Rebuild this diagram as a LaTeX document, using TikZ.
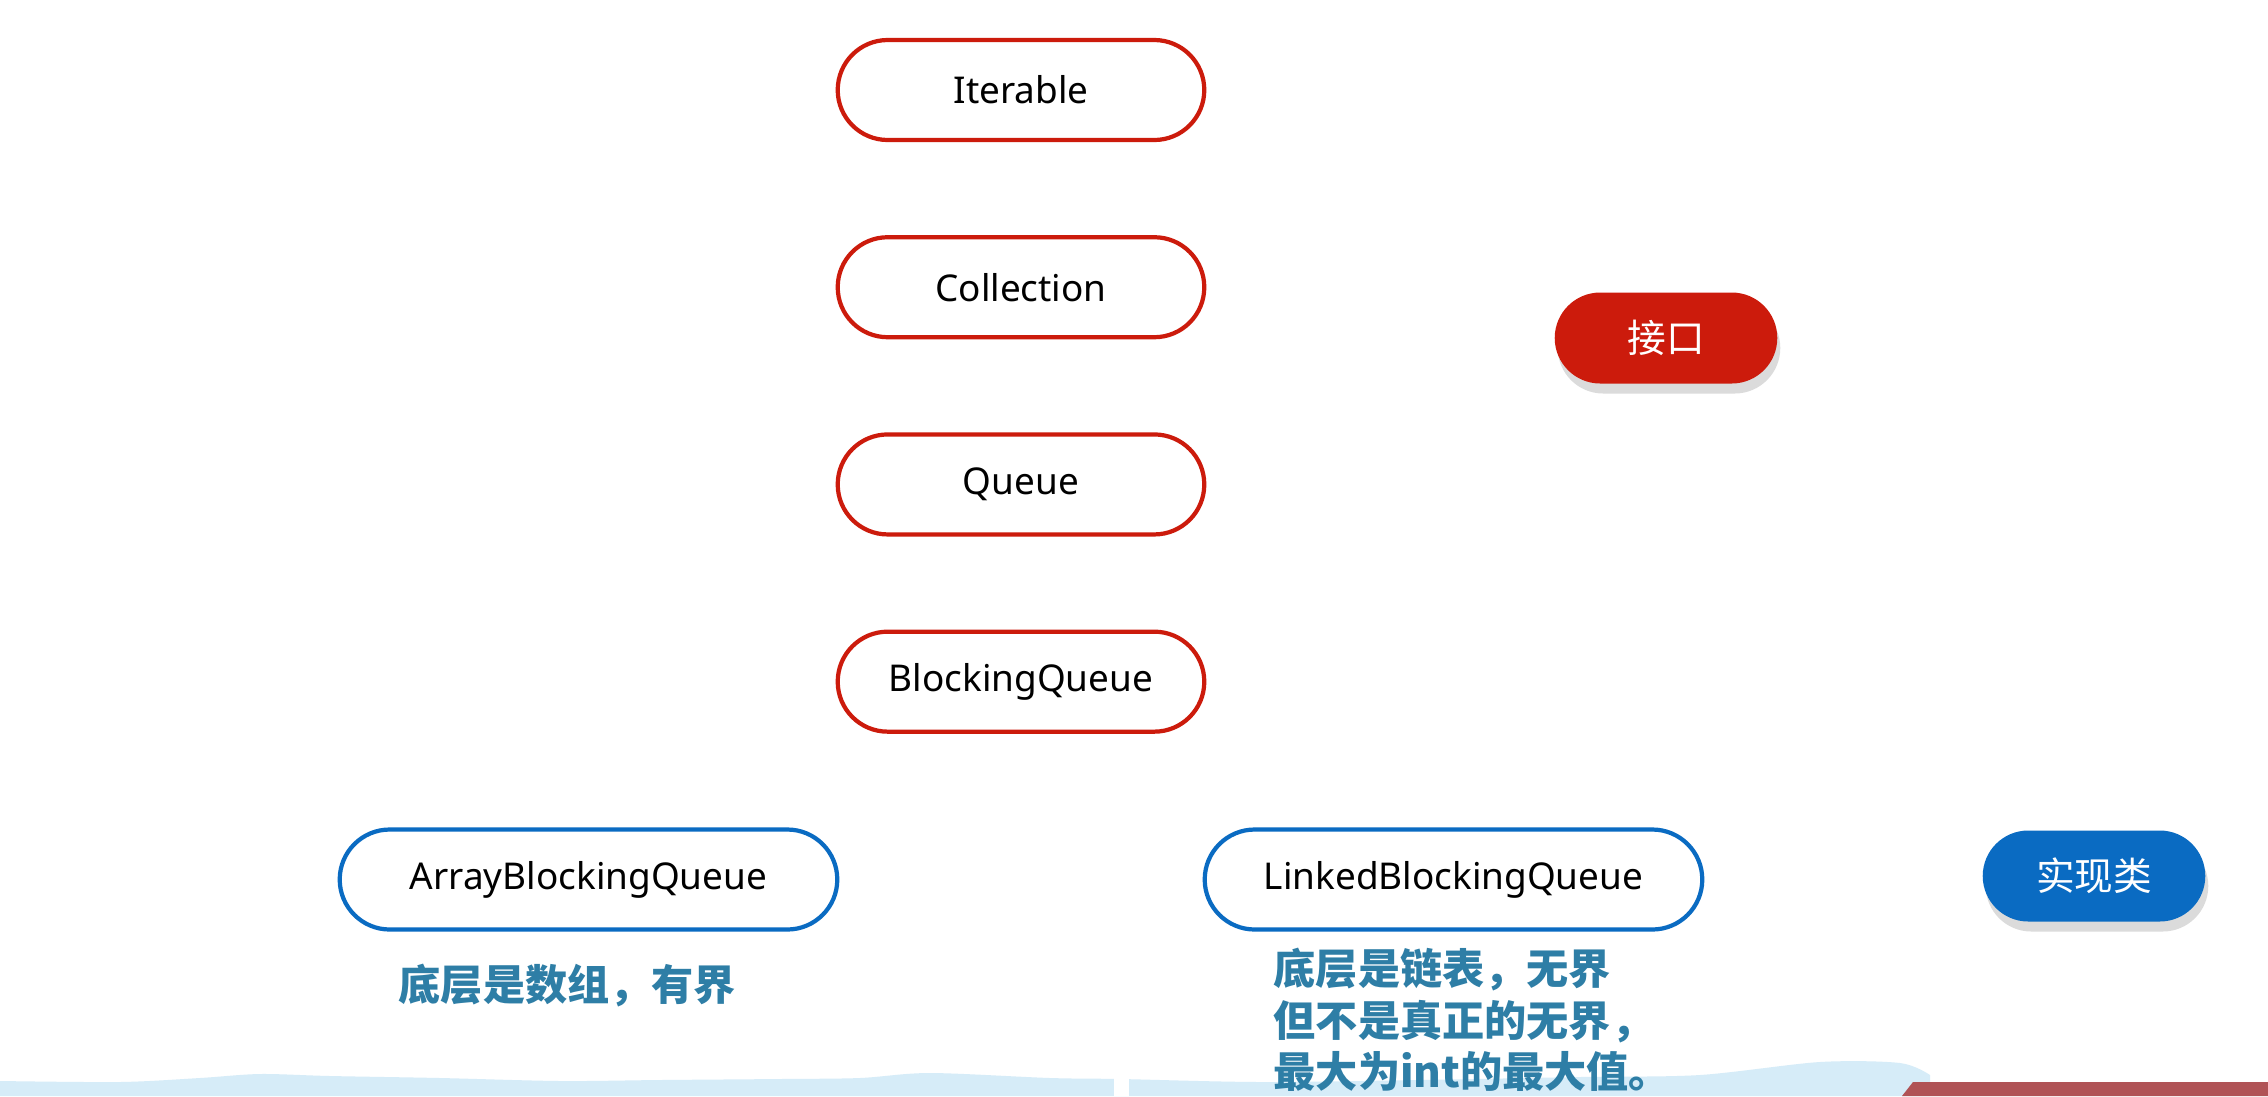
\documentclass[tikz,border=0pt]{standalone}
\usepackage{fontspec}
\setmainfont{Noto Sans}
\newfontfamily\cjk{Noto Sans CJK SC}
\usetikzlibrary{shapes.misc, positioning, shadows}
\definecolor{ifred}{HTML}{CC1B0C}
\definecolor{implblue}{HTML}{0A6BC2}
\definecolor{notetext}{HTML}{2E7EA6}
\definecolor{wavebg}{HTML}{D6ECF8}
\definecolor{stripred}{HTML}{B05356}

\begin{document}
\begin{tikzpicture}[font=\fontsize{10.5}{12}\selectfont, node distance=9.3mm,
  iface/.style={draw=ifred, line width=1.2pt, rounded rectangle,
                minimum width=39mm, minimum height=10mm},
  impl/.style={draw=implblue, line width=1.2pt, rounded rectangle,
               minimum width=52.1mm, minimum height=10mm},
  legendtag/.style={rounded rectangle, text=white, minimum width=24.6mm,
                    minimum height=9.1mm, font=\cjk\fontsize{11}{13}\selectfont,
                    drop shadow={shadow xshift=0.3mm, shadow yshift=-1mm,
                                 fill=black!14, opacity=1}},
  note/.style={text=notetext, font=\cjk\bfseries\fontsize{12}{14.6}\selectfont,
               align=left, anchor=west, inner sep=0pt}]
\useasboundingbox[fill=white] (0,0) rectangle (22.68,-10.96);

% bottom band
\fill[wavebg] (0,-10.96) -- plot[smooth] coordinates {(0,-10.81) (1.2,-10.82)
  (2.0,-10.78) (2.6,-10.74) (3.3,-10.76) (4.4,-10.78) (5.6,-10.81)
  (6.6,-10.80) (7.8,-10.79) (8.6,-10.78) (9.3,-10.73) (10.5,-10.78)
  (11.2,-10.79) (12.6,-10.82) (14.2,-10.80) (15.8,-10.77) (17.0,-10.75)
  (18.2,-10.62) (19.0,-10.63) (19.3,-10.75)} -- (19.3,-10.96) -- cycle;
\fill[white] (11.14,-10.78) rectangle (11.29,-10.96);
\fill[stripred] (19.02,-10.96) -- (19.13,-10.82) -- (22.68,-10.82) -- (22.68,-10.96) -- cycle;

% interfaces
\node[iface] (iterable) at (10.21,-0.90) {Iterable};
\node[iface, below=of iterable] (collection) {Collection};
\node[iface, below=of collection] (queue) {Queue};
\node[iface, below=of queue] (bqueue) {BlockingQueue};

% implementations
\node[impl] (abq) at (5.885,-8.795) {ArrayBlockingQueue};
\node[impl] (lbq) at (14.535,-8.795) {LinkedBlockingQueue};

\node[note] (abqnote) at (3.98,-9.86) {底层是数组，有界};
\node[note] (lbqnote) at (12.73,-10.20) {底层是链表，无界\\但不是真正的无界，\\最大为int的最大值。};

% legend
\node[legendtag, fill=ifred] (ifacetag) at (16.66,-3.38) {接口};
\node[legendtag, fill=implblue] (impltag) at (20.94,-8.76) {实现类};
\end{tikzpicture}
\end{document}
